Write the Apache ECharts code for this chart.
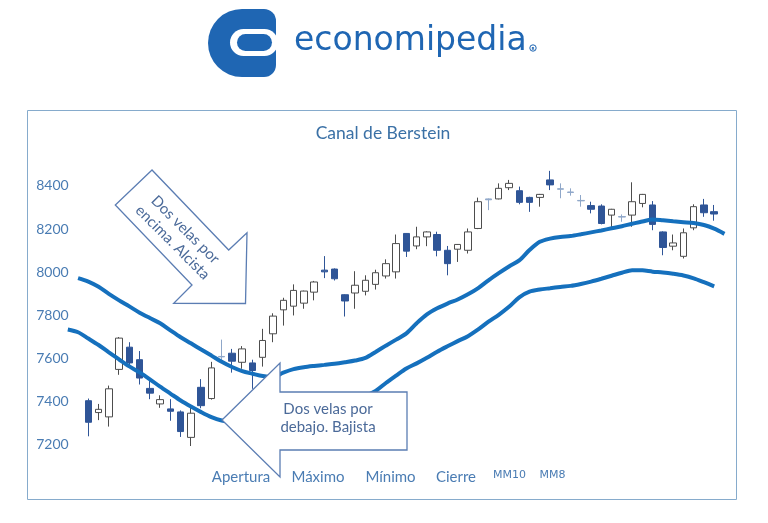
<!DOCTYPE html>
<html><head><meta charset="utf-8">
<script src="https://cdn.jsdelivr.net/npm/echarts@6/dist/echarts.min.js"></script>
<style>html,body{margin:0;padding:0;background:#fff}#c{width:768px;height:523px}</style>
</head><body><div id="c"></div>
<script>
// ---- data ----
const yTicks = [7200, 7400, 7600, 7800, 8000, 8200, 8400];
const openV  = [7405,7350,7330,7550,7653,7595,7462,7390,7367,7353,
                7235,7467,7415,7608,7625,7583,7580,7606,7715,7826,
                7843,7857,7908,8010,8015,7896,
                7904,7912,7944,7983,8002,8180,8122,8164,8175,8102,
                8107,8102,8203,8340,8340,8392,8378,8347,8347,8428,
                8387,8372,8333,8309,8307,8265,
                8258,8265,8319,8312,8187,8121,8074,8206,8312,8281];
const highV  = [7415,7390,7475,7700,7676,7635,7510,7430,7412,7360,
                7372,7505,7585,7688,7645,7658,7595,7738,7810,7882,
                7944,7915,7960,8075,8018,7898,
                8005,7986,8012,8060,8175,8182,8211,8190,8188,8122,
                8131,8203,8346,8342,8412,8428,8397,8350,8363,8470,
                8412,8389,8358,8327,8315,8294,
                8268,8417,8363,8330,8190,8175,8203,8315,8340,8312];
const lowV   = [7240,7315,7285,7525,7560,7480,7412,7372,7312,7237,
                7195,7370,7410,7594,7535,7553,7460,7563,7676,7753,
                7800,7831,7870,7973,7962,7795,
                7831,7893,7920,7971,7971,8071,8107,8121,8074,7986,
                8048,8087,8200,8288,8338,8381,8315,8280,8304,8381,
                8343,8355,8304,8273,8222,8203,
                8234,8211,8301,8195,8079,8102,8064,8195,8257,8239];
const closeV = [7305,7365,7460,7695,7580,7510,7440,7410,7356,7262,
                7347,7382,7557,7610,7588,7645,7545,7684,7797,7870,
                7916,7913,7955,8002,7970,7867,
                7940,7963,7998,8040,8133,8098,8164,8187,8102,8040,
                8129,8187,8327,8336,8389,8412,8324,8324,8361,8405,
                8385,8370,8331,8292,8226,8292,
                8256,8327,8361,8222,8115,8136,8183,8304,8276,8270];
const mm10 = ['-',7973,7957,7933,7900,7870,7842,7813,7788,7764,7731,
              7699,7671,7642,7614,7585,7561,7542,7530,7519,7515,
              7535,7551,7560,7566,7571,7576,7583,7591,7603,7631,
              7660,7688,7717,7764,7805,7833,7855,7874,7898,7927,
              7963,7996,8027,8055,8103,8141,8156,8164,8168,8176,
              8185,8194,8204,8213,8225,8235,8245,8241,8236,8232,
              8228,8219,8202,8178];
const mm8 = [7735,7722,7693,7663,7629,7596,7564,7536,7504,7470,
             7438,7406,7378,7352,7329,7313,7306,7297,7292,7292,
             7297,7306,7316,7325,7339,7353,7371,7390,7408,7427,
             7450,7487,7521,7554,7578,7604,7632,7657,7681,7704,
             7735,7771,7803,7840,7884,7910,7920,7926,7932,7937,
             7946,7957,7970,7984,7998,8010,8009,8003,7999,7993,
             7985,7972,7954,7935,'-'];
const legendLabels = ['Apertura', 'Máximo', 'Mínimo', 'Cierre', 'MM10', 'MM8'];
const titleText = 'Canal de Berstein';
const noteUp = 'Dos velas por\nencima. Alcista';
const noteDown = 'Dos velas por\ndebajo. Bajista';

// ---- build ----
const PAD_BEFORE = 2, PAD_AFTER = 1;
const nCat = PAD_BEFORE + openV.length + PAD_AFTER;
const categories = [];
for (let i = 0; i < nCat; i++) categories.push('P' + (i + 1));
const LIGHT = '#8fa7c9';
const candleData = [];
for (let i = 0; i < PAD_BEFORE; i++) candleData.push(['-', '-', '-', '-']);
for (let i = 0; i < openV.length; i++) {
  const v = [openV[i], closeV[i], lowV[i], highV[i]];
  if (Math.abs(openV[i] - closeV[i]) <= 4) {
    candleData.push({ value: v, itemStyle: { color: LIGHT, color0: LIGHT, borderColor: LIGHT, borderColor0: LIGHT } });
  } else candleData.push(v);
}
for (let i = 0; i < PAD_AFTER; i++) candleData.push(['-', '-', '-', '-']);

const BLUE = '#1f66b3';
const TXT = '#4a7cb3';
const NOTE = '#4b6a99';
const CALL = '#5b7db3';
const legendPos = [[241, 477, 15, 'Lato'], [318, 477, 15, 'Lato'], [390.5, 477, 15, 'Lato'], [456, 477, 15, 'Lato'], [509.5, 475, 11, 'DejaVu Sans'], [552.5, 475, 11, 'DejaVu Sans']];

const graphics = [
  // logo
  { type: 'rect', shape: { x: 208, y: 9, width: 68, height: 68, r: [34, 12, 12, 34] }, style: { fill: BLUE }, z: 10 },
  { type: 'rect', shape: { x: 230, y: 29, width: 48, height: 27, r: 13.5 }, style: { fill: '#fff' }, z: 11 },
  { type: 'rect', shape: { x: 237, y: 34, width: 35, height: 17, r: 8.5 }, style: { fill: BLUE }, z: 12 },
  { type: 'text', x: 294, y: 41, style: { text: 'economipedia', fill: BLUE, font: '33px "DejaVu Sans"', align: 'left', verticalAlign: 'middle' }, z: 10 },
  { type: 'circle', shape: { cx: 533, cy: 48, r: 3.2 }, style: { fill: 'none', stroke: BLUE, lineWidth: 1 }, z: 10 },
  // frame
  { type: 'rect', shape: { x: 27.5, y: 110.5, width: 709, height: 389 }, style: { fill: 'none', stroke: '#86abcc', lineWidth: 1 }, z: 0 },
  // title
  { type: 'text', x: 383, y: 133, style: { text: titleText, fill: '#3b71a6', font: '17.5px Lato', align: 'center', verticalAlign: 'middle' }, z: 10 },
  // callout up
  { type: 'polygon', shape: { points: [[152, 170], [115.3, 205], [192, 285], [173.7, 303.3], [245.5, 303.5], [247, 232.7], [228.7, 250]] },
    style: { fill: '#fff', stroke: CALL, lineWidth: 1.3 }, z: 100 },
  { type: 'text', x: 179, y: 236, rotation: -Math.PI / 4,
    style: { text: noteUp, fill: NOTE, font: '15px Lato', align: 'center', verticalAlign: 'middle', lineHeight: 18 }, z: 101 },
  // callout down
  { type: 'polygon', shape: { points: [[222, 420], [280, 363], [280, 392], [407, 392], [407, 450], [280, 450], [280, 477]] },
    style: { fill: '#fff', stroke: CALL, lineWidth: 1.3 }, z: 100 },
  { type: 'text', x: 328, y: 418,
    style: { text: noteDown, fill: NOTE, font: '15px Lato', align: 'center', verticalAlign: 'middle', lineHeight: 18.5 }, z: 101 }
];
legendLabels.forEach((t, i) => {
  const p = legendPos[i];
  graphics.push({ type: 'text', x: p[0], y: p[1], style: { text: t, fill: TXT, font: p[2] + 'px ' + (p[3] === 'Lato' ? 'Lato' : '"DejaVu Sans"'), align: 'center', verticalAlign: 'middle' }, z: 90 });
});
graphics.push({ type: 'text', x: 533, y: 48.5, style: { text: 'R', fill: BLUE, font: 'bold 4px "DejaVu Sans"', align: 'center', verticalAlign: 'middle' }, z: 10 });

const chart = echarts.init(document.getElementById('c'), null, { renderer: 'canvas' });
chart.setOption({
  animation: false,
  backgroundColor: '#fff',
  grid: { left: 62.67, right: 38.4, top: 142.8, bottom: 34.9, containLabel: false },
  xAxis: { type: 'category', data: categories, boundaryGap: true, show: false },
  yAxis: {
    type: 'value', min: 7000, max: 8600, interval: 200, scale: true,
    axisLine: { show: false }, axisTick: { show: false }, splitLine: { show: false },
    axisLabel: { margin: -6, color: TXT, fontFamily: 'Lato', fontSize: 14,
      formatter: v => yTicks.includes(v) ? String(v) : '' }
  },
  series: [
    { type: 'candlestick', name: 'Velas', data: candleData, barWidth: 7,
      itemStyle: { color: '#ffffff', color0: '#2f5597', borderColor: '#4d4d4d', borderColor0: '#2f5597', borderWidth: 1 } },
    { type: 'line', name: 'MM10', data: mm10, symbol: 'none', smooth: 0.3,
      lineStyle: { color: '#1570bd', width: 4 } },
    { type: 'line', name: 'MM8', data: mm8, symbol: 'none', smooth: 0.3,
      lineStyle: { color: '#1570bd', width: 4 } }
  ],
  graphic: graphics
});
</script></body></html>
